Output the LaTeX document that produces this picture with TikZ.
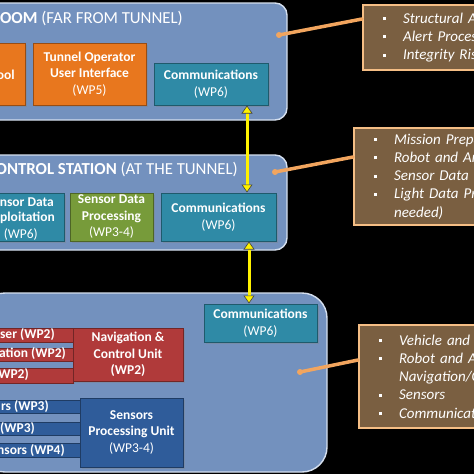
\documentclass[tikz,border=0pt]{standalone}
\usepackage{fontspec}
\setmainfont{Carlito}
\usetikzlibrary{arrows.meta,shadows}
\definecolor{panelc}{HTML}{7391BE}
\definecolor{panelb}{HTML}{D5DFEE}
\definecolor{orangec}{HTML}{E8771E}
\definecolor{tealc}{HTML}{2F8AA6}
\definecolor{greenc}{HTML}{779B3A}
\definecolor{redc}{HTML}{B03A3A}
\definecolor{bluec}{HTML}{2F5C9A}
\definecolor{calloutc}{HTML}{7A5F41}
\definecolor{calloutb}{HTML}{F5BE85}
\definecolor{connc}{HTML}{F2A55E}
\newcommand\mybul{\makebox[20pt][l]{\raisebox{3pt}{\rule{3pt}{3pt}}}}
\newcommand\mynobul{\hspace*{20pt}}
\begin{document}
\begin{tikzpicture}[x=1pt,y=-1pt,
  panel/.style={draw=panelb, line width=1.4pt, fill=panelc, rounded corners=#1},
  wbox/.style={draw=#1!65!black, line width=1pt, fill=#1, text=white, align=center, inner sep=0pt,
     drop shadow={opacity=0.35, shadow xshift=1.5pt, shadow yshift=-1.5pt},
     font=\bfseries\fontsize{13.5}{16.5}\selectfont},
  wbar/.style={draw=#1!65!black, line width=0.8pt, fill=#1, inner sep=0pt,
     drop shadow={opacity=0.3, shadow xshift=1pt, shadow yshift=-1pt}},
  bartext/.style={text=white, inner sep=0pt, anchor=east, font=\bfseries\fontsize{13.5}{16.5}\selectfont},
  titletext/.style={text=white, inner sep=0pt, anchor=east, font=\fontsize{16.8}{19}\selectfont},
  callout/.style={draw=calloutb, line width=2.2pt, fill=calloutc, text=white, anchor=west, align=left,
     text width=130pt, inner xsep=20pt, inner ysep=0pt, font=\itshape\fontsize{15}{18.3}\selectfont},
  conn/.style={draw=connc, line width=3.5pt, line cap=round},
  cdot/.style={circle, fill=connc, inner sep=0pt, minimum size=6pt},
  yarrow/.style={draw=yellow, line width=3pt,
     {Triangle[width=11pt,length=8pt,color=black!75,fill=yellow,line width=0.6pt]}-{Triangle[width=11pt,length=8pt,color=black!75,fill=yellow,line width=0.6pt]}}
]
\clip (0,0) rectangle (474,474);
\fill[black] (0,0) rectangle (474,474);

% panels
\node[panel=12pt, minimum width=307pt, minimum height=117pt, inner sep=0pt] (toppanel) at (133.5,61.5) {};
\node[panel=12pt, minimum width=307pt, minimum height=95pt, inner sep=0pt] (midpanel) at (133.5,202.5) {};
\node[panel=25pt, minimum width=347pt, minimum height=179pt, inner sep=0pt] (botpanel) at (153.5,382.5) {};

% titles
\node[titletext] (toptitle) at (183,19) {\textbf{OOM} (FAR FROM TUNNEL)};
\node[titletext] (midtitle) at (238,170) {\textbf{ONTROL STATION} (AT THE TUNNEL)};

% top row
\node[wbox=orangec, minimum width=85pt, minimum height=62pt] (tool) at (-17.5,74) {};
\node[bartext] (toolt) at (15,75) {ool};
\node[wbox=orangec, minimum width=113pt, minimum height=62pt] (toui) at (89.5,74) {Tunnel Operator\\User Interface\\\mdseries(WP5)};
\node[wbox=tealc, minimum width=114pt, minimum height=42pt] (topcomm) at (211,84) {Communications\\\mdseries(WP6)};

% middle row
\node[wbox=tealc, minimum width=86pt, minimum height=48pt] (sde) at (21,217) {};
\node[bartext] (sdet1) at (54,202) {nsor Data};
\node[bartext] (sdet2) at (55,218) {ploitation};
\node[bartext, font=\fontsize{13.5}{16.5}\selectfont] (sdet3) at (38,234) {(WP6)};
\node[wbox=greenc, minimum width=83pt, minimum height=48pt] (sdp) at (111.5,217) {Sensor Data\\Processing\\\mdseries(WP3-4)};
\node[wbox=tealc, minimum width=115pt, minimum height=48pt] (midcomm) at (218.5,217) {Communications\\\mdseries(WP6)};

% bottom
\node[wbox=tealc, minimum width=113pt, minimum height=38pt] (botcomm) at (260.5,323) {Communications\\\mdseries(WP6)};

\node[wbar=redc, minimum width=95pt, minimum height=14pt] (rbar1) at (26,335) {};
\node[wbar=redc, minimum width=95pt, minimum height=13pt] (rbar2) at (26,354.5) {};
\node[wbar=redc, minimum width=95pt, minimum height=15pt] (rbar3) at (26,375.5) {};
\node[bartext] (rbar1t) at (55,335) {ser (WP2)};
\node[bartext] (rbar2t) at (66,354) {ation (WP2)};
\node[bartext] (rbar3t) at (29,375) {WP2)};
\node[wbox=redc, minimum width=110pt, minimum height=53pt] (nav) at (128,354.5) {Navigation \&\\Control Unit\\(WP2)};

\node[wbar=bluec, minimum width=102pt, minimum height=13pt] (bbar1) at (29,406.5) {};
\node[wbar=bluec, minimum width=102pt, minimum height=13pt] (bbar2) at (29,428.5) {};
\node[wbar=bluec, minimum width=102pt, minimum height=14pt] (bbar3) at (29,450) {};
\node[bartext] (bbar1t) at (49,407) {rs (WP3)};
\node[bartext] (bbar2t) at (35,429) {(WP3)};
\node[bartext] (bbar3t) at (65,451) {nsors (WP4)};
\node[wbox=bluec, minimum width=103pt, minimum height=69pt] (spu) at (131.5,432.5) {Sensors\\Processing Unit\\\mdseries(WP3-4)};

% yellow arrows
\coordinate (ax1) at (247,0);
\coordinate (ax2) at (249,0);
\draw[yarrow] (topcomm.south -| ax1) -- (midcomm.north -| ax1);
\draw[yarrow] (midcomm.south -| ax2) -- (botcomm.north -| ax2);

% callouts
\node[callout, minimum height=65pt] (call1) at (362,37.5)
  {\mybul Structural A\\\mybul Alert Proces\\\mybul Integrity Ris};
\node[callout, minimum height=97pt] (call2) at (353,176.5)
  {\mybul Mission Prepa\\\mybul Robot and Ar\\\mybul Sensor Data T\\\mybul Light Data Pre\\\mynobul needed)};
\node[callout, minimum height=103pt] (call3) at (358,376.5)
  {\mybul Vehicle and A\\\mybul Robot and A\\\mynobul Navigation/C\\\mybul Sensors\\\mybul Communicat};

% connectors
\node[cdot] (d1) at (279,35) {};
\node[cdot] (d2) at (275,172) {};
\node[cdot] (d3) at (300,372) {};
\draw[conn] (d1.center) -- ([yshift=18.5pt]call1.west);
\draw[conn] (d2.center) -- ([yshift=19.5pt]call2.west);
\draw[conn] (d3.center) -- ([yshift=16.5pt]call3.west);
\end{tikzpicture}
\end{document}
